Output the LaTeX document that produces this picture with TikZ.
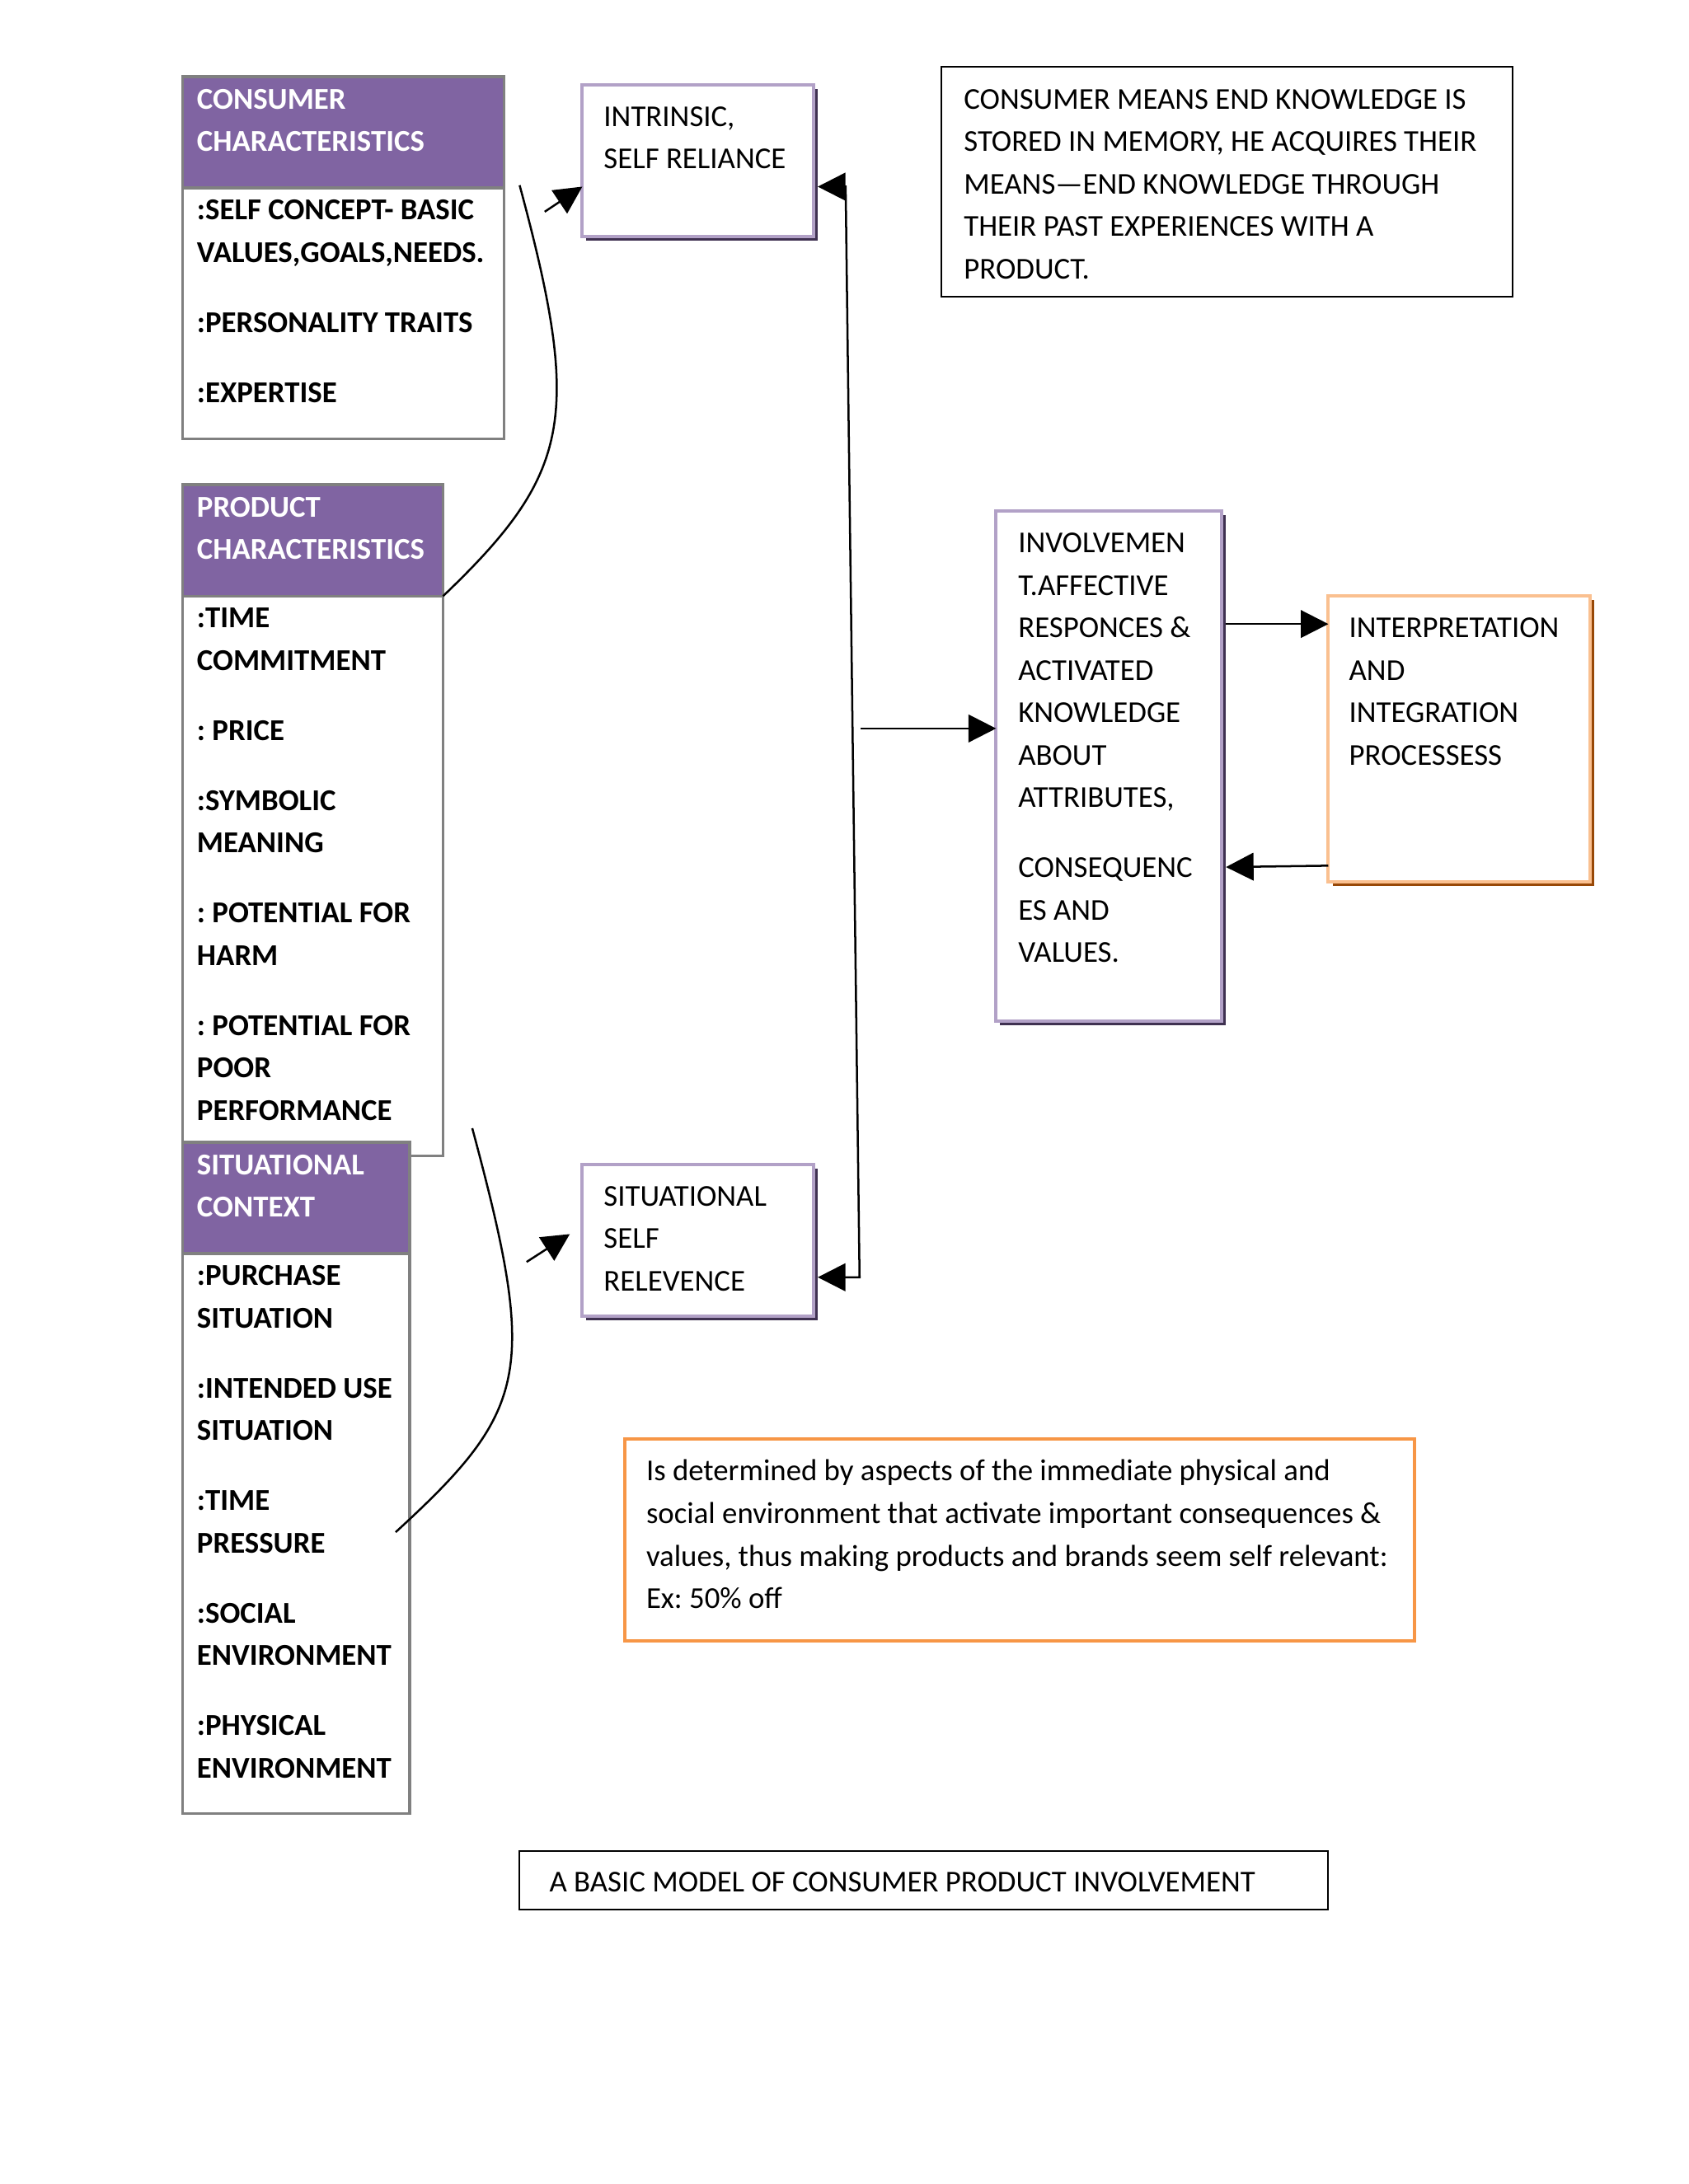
\documentclass[tikz,border=0pt]{standalone}
\usepackage{fontspec}
\setmainfont{Carlito}
\usetikzlibrary{arrows.meta,shadows}
\frenchspacing

\definecolor{hdpurple}{HTML}{8064A2}
\definecolor{boxgray}{HTML}{808080}
\definecolor{lavender}{HTML}{B2A1C7}
\definecolor{plumshade}{HTML}{3F3151}
\definecolor{peach}{HTML}{FAC090}
\definecolor{rustshade}{HTML}{984807}
\definecolor{orangeline}{HTML}{F79646}

\newdimen\dpx \dpx=0.505pt

\tikzset{
 charbox/.style={draw=boxgray, line width=1pt, fill=white, anchor=north west, inner sep=0pt, outer sep=0pt},
 headbox/.style={charbox, fill=hdpurple},
 lilacbox/.style={charbox, draw=lavender, line width=1.2pt,
   drop shadow={shadow xshift=1.5pt, shadow yshift=-1.5pt, fill=plumshade, opacity=1}},
 peachbox/.style={charbox, draw=peach, line width=1.2pt,
   drop shadow={shadow xshift=1.5pt, shadow yshift=-1.5pt, fill=rustshade, opacity=1}},
 notebox/.style={charbox, draw=black, line width=0.6pt},
 txt/.style={anchor=north west, inner sep=0pt, align=left, font=\fontsize{11}{15.4}\selectfont},
 boldtxt/.style={txt, font=\fontsize{11}{15.4}\selectfont\bfseries},
 headtxt/.style={boldtxt, text=white},
 link/.style={line width=0.75pt},
 arr/.style={link, -{Triangle[length=10pt,width=10pt]}},
 twoarr/.style={link, {Triangle[length=10pt,width=10pt]}-{Triangle[length=10pt,width=10pt]}},
}

\begin{document}
\begin{tikzpicture}[x=0.505pt,y=-0.505pt]
 \path[use as bounding box, fill=white] (0,0) rectangle (1212,1568);

 % left column
 \node[charbox, minimum width=231\dpx, minimum height=260\dpx] (cons) at (131,55) {};
 \node[headbox, minimum width=231\dpx, minimum height=80\dpx] (conshead) at (131,55) {};
 \node[headtxt] (consname) at ([shift={(10,1.5)}]conshead.north west) {\strut CONSUMER\\CHARACTERISTICS};
 \node[boldtxt] (consitems) at ([shift={(10,1)}]conshead.south west)
   {\strut :SELF CONCEPT- BASIC\\VALUES,GOALS,NEEDS.\\[10pt]:PERSONALITY TRAITS\\[10pt]:EXPERTISE};

 \node[charbox, minimum width=187\dpx, minimum height=482\dpx] (prod) at (131,348) {};
 \node[headbox, minimum width=187\dpx, minimum height=80\dpx] (prodhead) at (131,348) {};
 \node[headtxt] (prodname) at ([shift={(10,1.5)}]prodhead.north west) {\strut PRODUCT\\CHARACTERISTICS};
 \node[boldtxt] (proditems) at ([shift={(10,1)}]prodhead.south west)
   {\strut :TIME\\COMMITMENT\\[10pt]: PRICE\\[10pt]:SYMBOLIC\\MEANING\\[10pt]: POTENTIAL FOR\\HARM\\[10pt]: POTENTIAL FOR\\POOR\\PERFORMANCE};

 \node[charbox, minimum width=163\dpx, minimum height=482\dpx] (sit) at (131,820) {};
 \node[headbox, minimum width=163\dpx, minimum height=80\dpx] (sithead) at (131,820) {};
 \node[headtxt] (sitname) at ([shift={(10,1.5)}]sithead.north west) {\strut SITUATIONAL\\CONTEXT};
 \node[boldtxt] (situtems) at ([shift={(10,1)}]sithead.south west)
   {\strut :PURCHASE\\SITUATION\\[10pt]:INTENDED USE\\SITUATION\\[10pt]:TIME\\PRESSURE\\[10pt]:SOCIAL\\ENVIRONMENT\\[10pt]:PHYSICAL\\ENVIRONMENT};

 % self relevance boxes
 \node[lilacbox, minimum width=166\dpx, minimum height=109\dpx] (intr) at (418,61) {};
 \node[txt] (intrtxt) at ([shift={(15,8)}]intr.north west) {\strut INTRINSIC,\\SELF RELIANCE};
 \node[lilacbox, minimum width=166\dpx, minimum height=109\dpx] (sitself) at (418,836) {};
 \node[txt] (sitselftxt) at ([shift={(15,8)}]sitself.north west) {\strut SITUATIONAL\\SELF\\RELEVENCE};

 % note boxes
 \node[notebox, minimum width=410\dpx, minimum height=165\dpx] (means) at (676,48) {};
 \node[txt] (meanstxt) at ([shift={(15.5,8.5)}]means.north west)
   {\strut CONSUMER MEANS END KNOWLEDGE IS\\STORED IN MEMORY, HE ACQUIRES THEIR\\MEANS—END KNOWLEDGE THROUGH\\THEIR PAST EXPERIENCES WITH A\\PRODUCT.};
 \node[charbox, draw=orangeline, line width=1.25pt, minimum width=567\dpx, minimum height=145\dpx] (aspect) at (448.5,1033) {};
 \node[txt] (aspecttxt) at ([shift={(15,8.5)}]aspect.north west)
   {\strut Is determined by aspects of the immediate physical and\\social environment that activate important consequences \&\\values, thus making products and brands seem self relevant:\\Ex: 50\% off};
 \node[notebox, minimum width=580\dpx, minimum height=42\dpx] (title) at (373,1329) {};
 \node[txt] (titletxt) at ([shift={(21,7.5)}]title.north west) {\strut A BASIC MODEL OF CONSUMER PRODUCT INVOLVEMENT};

 % involvement and processing
 \node[lilacbox, minimum width=162\dpx, minimum height=366\dpx] (inv) at (715,367) {};
 \node[txt] (invtxt) at ([shift={(15.5,8)}]inv.north west)
   {\strut INVOLVEMEN\\T.AFFECTIVE\\RESPONCES \&\\ACTIVATED\\KNOWLEDGE\\ABOUT\\ATTRIBUTES,\\[10pt]CONSEQUENC\\ES AND\\VALUES.};
 \node[peachbox, minimum width=188\dpx, minimum height=205\dpx] (interp) at (953.5,428) {};
 \node[txt] (interptxt) at ([shift={(14.5,8)}]interp.north west)
   {\strut INTERPRETATION\\AND\\INTEGRATION\\PROCESSESS};

 % connectors
 \coordinate (c1) at (373,133);
 \coordinate (c2) at (339,810);
 \coordinate (c3) at (284,1100);
 \coordinate (a1) at (391,152);
 \coordinate (a2) at (378,906);
 \coordinate (a2tip) at (409,886);
 \coordinate (a3) at (618,523);
 \coordinate (b1) at (607,134);
 \coordinate (b2) at (617,917);
 \draw[link] (c1) .. controls (418,300) and (410,340) .. (prodhead.south east);
 \draw[link] (c2) .. controls (386,985) and (380,1012) .. (c3);
 \draw[arr] (a1) -- ([shift={(0,18.5)}]intr.west);
 \draw[arr] (a2) -- (a2tip);
 \draw[twoarr] ([shift={(3,18.5)}]intr.east) -- (b1) -- (b2) -- ([shift={(3,26.5)}]sitself.east);
 \draw[arr] (a3) -- (inv.west |- a3);
 \draw[arr] ([shift={(3,-102)}]inv.east) -- ([shift={(0,-82.5)}]interp.west);
 \draw[arr] ([shift={(0,91)}]interp.west) -- ([shift={(3,72.5)}]inv.east);
\end{tikzpicture}
\end{document}
